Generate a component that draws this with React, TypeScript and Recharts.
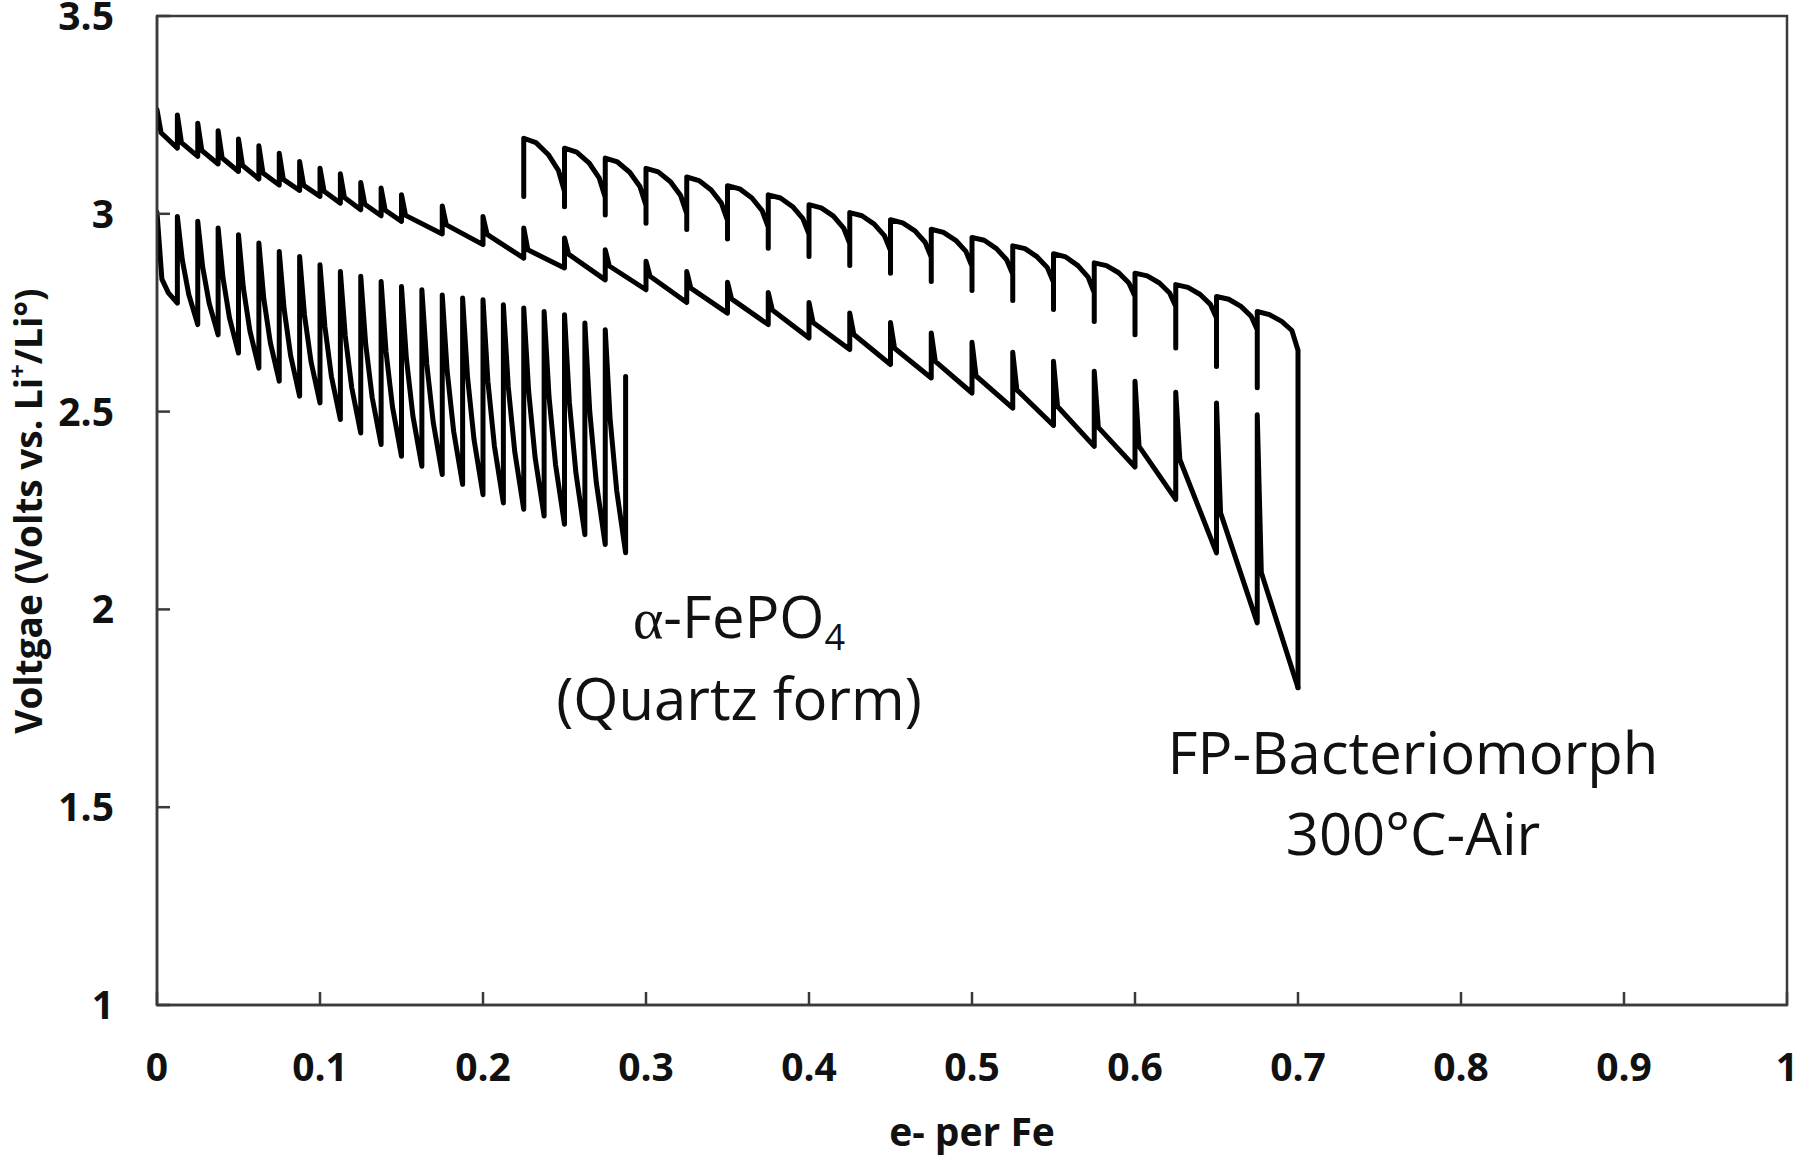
import React from 'react';
import { LineChart, Line, XAxis, YAxis, ReferenceArea, Label } from 'recharts';

// alpha-FePO4 (quartz form): pulse ends every 0.0125 e-/Fe
const alphaX = [
  0.0125, 0.025, 0.0375, 0.05, 0.0625, 0.075, 0.0875, 0.1, 0.1125, 0.125, 0.1375, 0.15,
  0.1625, 0.175, 0.1875, 0.2, 0.2125, 0.225, 0.2375, 0.25, 0.2625, 0.275, 0.2875,
];
const alphaStart = 3.003;
const alphaBottom = [
  2.774, 2.72, 2.694, 2.648, 2.61, 2.577, 2.539, 2.522, 2.48, 2.446, 2.417, 2.387,
  2.362, 2.341, 2.316, 2.29, 2.269, 2.253, 2.236, 2.215, 2.189, 2.164, 2.143,
];
const alphaTop = [
  2.993, 2.981, 2.964, 2.947, 2.926, 2.905, 2.892, 2.871, 2.854, 2.842, 2.829, 2.816,
  2.808, 2.795, 2.787, 2.783, 2.77, 2.762, 2.753, 2.745, 2.724, 2.707, 2.589,
];
// voltage shortly after each pulse starts (+0.003 and +0.007 e-)
const alphaKnee1 = [
  2.835, 2.884, 2.866, 2.838, 2.812, 2.786, 2.759, 2.744, 2.715, 2.691, 2.672, 2.652,
  2.634, 2.621, 2.603, 2.588, 2.577, 2.563, 2.552, 2.538, 2.523, 2.5, 2.481,
];
const alphaKnee2 = [
  2.8, 2.796, 2.774, 2.736, 2.704, 2.675, 2.641, 2.626, 2.589, 2.56, 2.536, 2.511,
  2.489, 2.472, 2.45, 2.429, 2.413, 2.398, 2.383, 2.366, 2.345, 2.321, 2.301,
];

// FP-Bacteriomorph 300°C-Air: lower (closed-circuit) trace
const bactX = [
  0.0125, 0.025, 0.0375, 0.05, 0.0625, 0.075, 0.0875, 0.1, 0.1125, 0.125, 0.1375, 0.15,
  0.175, 0.2, 0.225, 0.25, 0.275, 0.3, 0.325, 0.35, 0.375, 0.4, 0.425, 0.45, 0.475, 0.5,
  0.525, 0.55, 0.575, 0.6, 0.625, 0.65, 0.675,
];
const bactStart = 3.263;
const bactStartKnee = 3.205;
const bactBottom = [
  3.166, 3.145, 3.126, 3.107, 3.088, 3.073, 3.059, 3.044, 3.027, 3.01, 2.995, 2.981,
  2.949, 2.922, 2.888, 2.863, 2.833, 2.808, 2.776, 2.749, 2.72, 2.686, 2.657, 2.619,
  2.585, 2.547, 2.509, 2.465, 2.412, 2.36, 2.278, 2.143, 1.966,
];
const bactTop = [
  3.25, 3.229, 3.21, 3.189, 3.172, 3.153, 3.132, 3.115, 3.101, 3.079, 3.065, 3.048,
  3.02, 2.993, 2.964, 2.939, 2.909, 2.88, 2.854, 2.827, 2.801, 2.776, 2.749, 2.725,
  2.699, 2.675, 2.65, 2.627, 2.602, 2.577, 2.549, 2.522, 2.492,
];
const bactKnee = [
  3.18, 3.16, 3.141, 3.122, 3.103, 3.087, 3.072, 3.057, 3.041, 3.024, 3.009, 2.996,
  2.972, 2.948, 2.909, 2.898, 2.868, 2.842, 2.812, 2.785, 2.757, 2.725, 2.695, 2.66,
  2.627, 2.59, 2.555, 2.513, 2.46, 2.412, 2.379, 2.244, 2.093,
];
const bactEndX = 0.7;
const bactEndV = 1.802;

// FP-Bacteriomorph: upper (relaxation) trace, rounded arcs between steps
const upperX = [
  0.225, 0.25, 0.275, 0.3, 0.325, 0.35, 0.375, 0.4, 0.425, 0.45, 0.475, 0.5, 0.525,
  0.55, 0.575, 0.6, 0.625, 0.65, 0.675,
];
const upperFoot = [
  3.044, 3.018, 2.997, 2.976, 2.96, 2.936, 2.913, 2.892, 2.869, 2.85, 2.829, 2.806,
  2.781, 2.758, 2.728, 2.694, 2.661, 2.614, 2.56,
];
const upperTop = [
  3.191, 3.166, 3.141, 3.115, 3.093, 3.071, 3.048, 3.023, 3.003, 2.985, 2.961, 2.94,
  2.919, 2.899, 2.876, 2.85, 2.821, 2.791, 2.753,
];
const arcA = [
  3.18, 3.156, 3.131, 3.106, 3.084, 3.063, 3.04, 3.015, 2.995, 2.977, 2.953, 2.933,
  2.912, 2.891, 2.869, 2.843, 2.814, 2.784, 2.745,
];
const arcB = [
  3.15, 3.129, 3.105, 3.081, 3.06, 3.04, 3.018, 2.994, 2.974, 2.957, 2.933, 2.912,
  2.891, 2.869, 2.851, 2.825, 2.796, 2.766, 2.728,
];
const arcC = [
  3.11, 3.091, 3.069, 3.046, 3.027, 3.008, 2.988, 2.964, 2.945, 2.928, 2.905, 2.884,
  2.864, 2.84, 2.825, 2.8, 2.771, 2.741, 2.705,
];
const upperJoin = [
  3.056, 3.041, 3.021, 3.0, 2.983, 2.966, 2.948, 2.925, 2.907, 2.89, 2.867, 2.847,
  2.827, 2.8, 2.791, 2.766, 2.737, 2.707, 2.655,
];

const xTicks = [0, 0.1, 0.2, 0.3, 0.4, 0.5, 0.6, 0.7, 0.8, 0.9, 1];
const yTicks = [1, 1.5, 2, 2.5, 3, 3.5];

type Pt = { x: number; v: number };

const alphaData: Pt[] = [{ x: 0, v: alphaStart }];
alphaX.forEach((x, i) => {
  const x0 = i === 0 ? 0 : alphaX[i - 1];
  alphaData.push({ x: x0 + 0.003, v: alphaKnee1[i] });
  alphaData.push({ x: x0 + 0.007, v: alphaKnee2[i] });
  alphaData.push({ x, v: alphaBottom[i] });
  alphaData.push({ x, v: alphaTop[i] });
});

const bactData: Pt[] = [
  { x: 0, v: bactStart },
  { x: 0.0025, v: bactStartKnee },
];
bactX.forEach((x, i) => {
  bactData.push({ x, v: bactBottom[i] });
  bactData.push({ x, v: bactTop[i] });
  bactData.push({ x: x + 0.0025, v: bactKnee[i] });
});
bactData.push({ x: bactEndX, v: bactEndV });

const upperData: Pt[] = [];
upperX.forEach((x, i) => {
  upperData.push({ x, v: upperFoot[i] });
  upperData.push({ x, v: upperTop[i] });
  upperData.push({ x: x + 0.0075, v: arcA[i] });
  upperData.push({ x: x + 0.015, v: arcB[i] });
  upperData.push({ x: x + 0.02125, v: arcC[i] });
  upperData.push({ x: x + 0.025, v: upperJoin[i] });
});
upperData.push({ x: bactEndX, v: bactEndV });

const axisColor = '#3a3a3a';
const font = '"Open Sans", "DejaVu Sans", sans-serif';

const XTick = (props: any) => {
  const { x, y, payload } = props;
  return (
    <g>
      <line x1={x} y1={y} x2={x} y2={y - 13} stroke={axisColor} strokeWidth={2.5} />
      <text x={x} y={y + 76} textAnchor="middle" fontFamily={font} fontWeight={700} fontSize={39} fill="#111">
        {String(payload.value)}
      </text>
    </g>
  );
};

const YTick = (props: any) => {
  const { x, y, payload } = props;
  return (
    <g>
      <line x1={x} y1={y} x2={x + 13} y2={y} stroke={axisColor} strokeWidth={2.5} />
      <text x={x - 43} y={y + 14} textAnchor="end" fontFamily={font} fontWeight={700} fontSize={39} fill="#111">
        {String(payload.value)}
      </text>
    </g>
  );
};

const lineProps = {
  dataKey: 'v',
  stroke: '#000',
  strokeWidth: 5,
  dot: false,
  activeDot: false,
  isAnimationActive: false,
  strokeLinejoin: 'round' as const,
  strokeLinecap: 'round' as const,
  type: 'linear' as const,
};

const App = () => {
  return (
    <div style={{ position: 'absolute', left: 0, top: 0, width: 1800, height: 1160, background: '#fff' }}>
      <LineChart width={1800} height={1160} margin={{ top: 16, right: 13, left: 0, bottom: 0 }}>
        <XAxis
          dataKey="x"
          type="number"
          domain={[0, 1]}
          ticks={xTicks}
          interval={0}
          allowDataOverflow
          height={155}
          tickSize={0}
          tickMargin={0}
          tickLine={false}
          tick={<XTick />}
          axisLine={{ stroke: axisColor, strokeWidth: 2.5 }}
        >
          <Label
            content={() => (
              <text x={972} y={1146} textAnchor="middle" fontFamily={font} fontWeight={700} fontSize={39} fill="#111">
                e- per Fe
              </text>
            )}
          />
        </XAxis>
        <YAxis
          type="number"
          domain={[1, 3.5]}
          ticks={yTicks}
          interval={0}
          allowDataOverflow
          width={157}
          tickSize={0}
          tickMargin={0}
          tickLine={false}
          tick={<YTick />}
          axisLine={{ stroke: axisColor, strokeWidth: 2.5 }}
        >
          <Label
            content={() => (
              <text
                x={42}
                y={511}
                transform="rotate(-90, 42, 511)"
                textAnchor="middle"
                fontFamily={font}
                fontWeight={700}
                fontSize={37}
                fill="#111"
              >
                Voltgae (Volts vs. Li
                <tspan baselineShift="super" fontSize={24}>+</tspan>
                /Li°)
              </text>
            )}
          />
        </YAxis>
        <ReferenceArea x1={0} x2={1} y1={1} y2={3.5} fill="none" stroke={axisColor} strokeWidth={2.5} />
        <Line {...lineProps} data={alphaData} name="α-FePO4 (Quartz form)" />
        <Line {...lineProps} data={bactData} name="FP-Bacteriomorph 300°C-Air" />
        <Line {...lineProps} data={upperData} name="FP-Bacteriomorph 300°C-Air (rest)" />
      </LineChart>
      <svg
        width={1800}
        height={1160}
        style={{ position: 'absolute', left: 0, top: 0, pointerEvents: 'none' }}
      >
        <g fontFamily={font} fontSize={58} fill="#111" textAnchor="middle">
          <text x={739} y={638}>
            <tspan fontFamily='"Liberation Serif", serif'>α</tspan>-FePO
            <tspan fontSize={36} dy={12}>4</tspan>
          </text>
          <text x={739} y={720}>(Quartz form)</text>
          <text x={1413} y={774}>FP-Bacteriomorph</text>
          <text x={1413} y={855}>300°C-Air</text>
        </g>
      </svg>
    </div>
  );
};

export default App;
